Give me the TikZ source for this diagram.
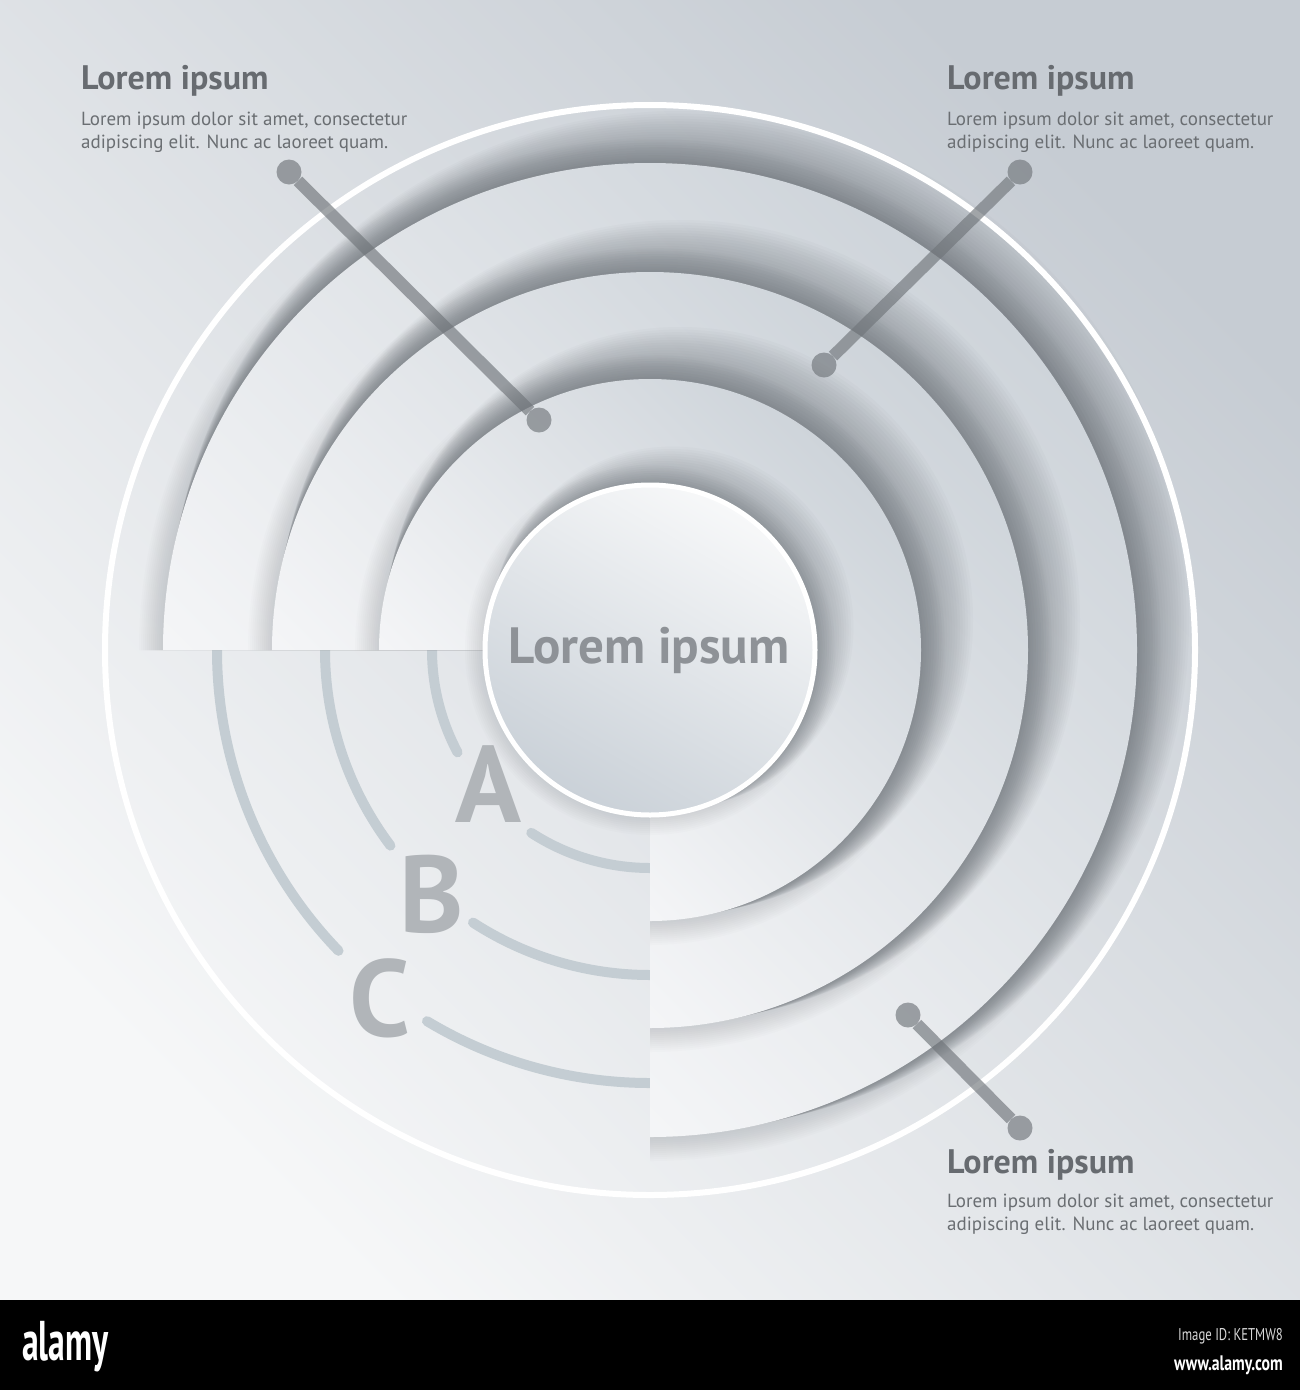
\documentclass[tikz,border=0pt]{standalone}
\usepackage{fontspec}
\setmainfont{PT Sans}
\definecolor{bgdark}{HTML}{C6CCD3}
\definecolor{bglight}{HTML}{F6F7F8}
\definecolor{ringdark}{HTML}{CED4DA}
\definecolor{ringlight}{HTML}{FBFBFC}
\definecolor{discdark}{HTML}{CAD1D8}
\definecolor{disclight}{HTML}{F7F8F9}
\definecolor{shadowcol}{HTML}{4E545A}
\definecolor{headcol}{HTML}{676B70}
\definecolor{bodycol}{HTML}{6A6E72}
\definecolor{centercol}{HTML}{8E9297}
\definecolor{lettercol}{HTML}{B1B5B9}
\definecolor{arccol}{HTML}{C4CDD3}
\definecolor{dotcol}{HTML}{70757A}
\tikzset{
  arcline/.style={draw=arccol, line width=10pt, line cap=round},
  dotnode/.style={circle, minimum size=25pt, inner sep=0pt, fill=dotcol, fill opacity=0.65, draw=none},
  conn/.style={draw=dotcol, line width=12pt, draw opacity=0.65},
  head/.style={anchor=base west, text=headcol, font=\fontsize{34}{38}\selectfont\bfseries, inner sep=0pt},
  body/.style={anchor=base west, text=bodycol, font=\fontsize{19}{23}\selectfont, inner sep=0pt},
  letter/.style={anchor=base, text=lettercol, font=\fontsize{109}{112}\selectfont\bfseries, inner sep=0pt},
  shadowlayer/.style={fill=shadowcol, fill opacity=#1},
}
% directional (up-right) plus ambient soft shadow of a three-quarter disc
\newcommand{\ringshadow}[1]{%
  \foreach \k in {1,...,12}{%
    \pgfmathsetmacro\rr{#1+\k*2.0}%
    \fill[shadowlayer=0.015] (650,650) -- ++(180:\rr) arc[start angle=180, end angle=450, radius=\rr] -- cycle;
  }%
  \foreach \k in {1,...,20}{%
    \pgfmathsetmacro\rr{#1+\k*1.1}%
    \pgfmathsetmacro\ss{\k*1.5}%
    \fill[shadowlayer=0.026] (650+\ss,650-\ss) -- ++(180:\rr) arc[start angle=180, end angle=450, radius=\rr] -- cycle;
  }%
}
\newcommand{\ringfill}[1]{%
  \shade[top color=ringdark, bottom color=ringlight, shading angle=-45] (650,650) -- ++(180:#1) arc[start angle=180, end angle=450, radius=#1] -- cycle;
}
\begin{document}
\begin{tikzpicture}[x=1pt,y=-1pt]
\useasboundingbox (0,0) rectangle (1300,1390);
% background
\shade[top color=bgdark, bottom color=bglight, shading angle=-45] (0,0) rectangle (1300,1300);
\fill[black] (0,1300) rectangle (1300,1390);

% guide arcs in the open quadrant
\draw[arcline] (650,650) ++(180:218) arc[start angle=180, end angle=152, radius=218];
\draw[arcline] (650,650) ++(123:218) arc[start angle=123, end angle=90, radius=218];
\draw[arcline] (650,650) ++(180:325) arc[start angle=180, end angle=143, radius=325];
\draw[arcline] (650,650) ++(123:325) arc[start angle=123, end angle=90, radius=325];
\draw[arcline] (650,650) ++(180:433) arc[start angle=180, end angle=136, radius=433];
\draw[arcline] (650,650) ++(121:433) arc[start angle=121, end angle=90, radius=433];
\node[letter] (la) at (488,822) {A};
\node[letter] (lb) at (432,932) {B};
\node[letter] (lc) at (380,1036) {C};

% stacked three-quarter rings
\ringshadow{487}
\ringfill{487}
\ringshadow{378}
\ringfill{378}
\ringshadow{271}
\ringfill{271}

% central disc
\foreach \k in {1,...,10}{%
  \pgfmathsetmacro\rr{165+\k*2.0}%
  \fill[shadowlayer=0.015] (650,650) circle[radius=\rr];
}
\foreach \k in {1,...,16}{%
  \pgfmathsetmacro\rr{165+\k*1.0}%
  \pgfmathsetmacro\ss{\k*1.4}%
  \fill[shadowlayer=0.026] (650+\ss,650-\ss) circle[radius=\rr];
}
\shade[top color=disclight, bottom color=discdark, shading angle=-30] (650,650) circle[radius=165];
\draw[white, line width=5pt] (650,650) circle[radius=165];
\node[anchor=base, text=centercol, font=\fontsize{51}{55}\selectfont\bfseries, inner sep=0pt] (ctext) at (649,663) {Lorem ipsum};

% outer white ring
\draw[white, line width=6pt] (650,650) circle[radius=545];

% pointer lines
\node[dotnode] (p1a) at (289,172) {};
\node[dotnode] (p1b) at (539,420) {};
\draw[conn] (p1a) -- (p1b);
\node[dotnode] (p2a) at (1020,172) {};
\node[dotnode] (p2b) at (824,365) {};
\draw[conn] (p2a) -- (p2b);
\node[dotnode] (p3a) at (908,1015) {};
\node[dotnode] (p3b) at (1020,1128) {};
\draw[conn] (p3a) -- (p3b);

% texts
\node[head] (h1) at (81,89) {Lorem ipsum};
\node[body] (b1a) at (81,125) {Lorem ipsum dolor sit amet, consectetur};
\node[body] (b1b) at (81,148) {adipiscing elit. Nunc ac laoreet quam.};
\node[head] (h2) at (947,89) {Lorem ipsum};
\node[body] (b2a) at (947,125) {Lorem ipsum dolor sit amet, consectetur};
\node[body] (b2b) at (947,148) {adipiscing elit. Nunc ac laoreet quam.};
\node[head] (h3) at (947,1173) {Lorem ipsum};
\node[body] (b3a) at (947,1207) {Lorem ipsum dolor sit amet, consectetur};
\node[body] (b3b) at (947,1230) {adipiscing elit. Nunc ac laoreet quam.};

% footer bar
\node[anchor=base west, text=white, font=\fontsize{56}{56}\selectfont\bfseries, inner sep=0pt] (logo) at (22,1360) {\scalebox{0.6}[1]{alamy}};
\node[anchor=base east, text=white!85!black, font=\fontsize{17}{17}\selectfont, inner sep=0pt] (imgid) at (1283,1340) {\scalebox{0.75}[1]{Image ID: KETMW8}};
\node[anchor=base east, text=white, font=\fontsize{21}{21}\selectfont\bfseries, inner sep=0pt] (url) at (1283,1370) {\scalebox{0.75}[1]{www.alamy.com}};
\end{tikzpicture}
\end{document}
